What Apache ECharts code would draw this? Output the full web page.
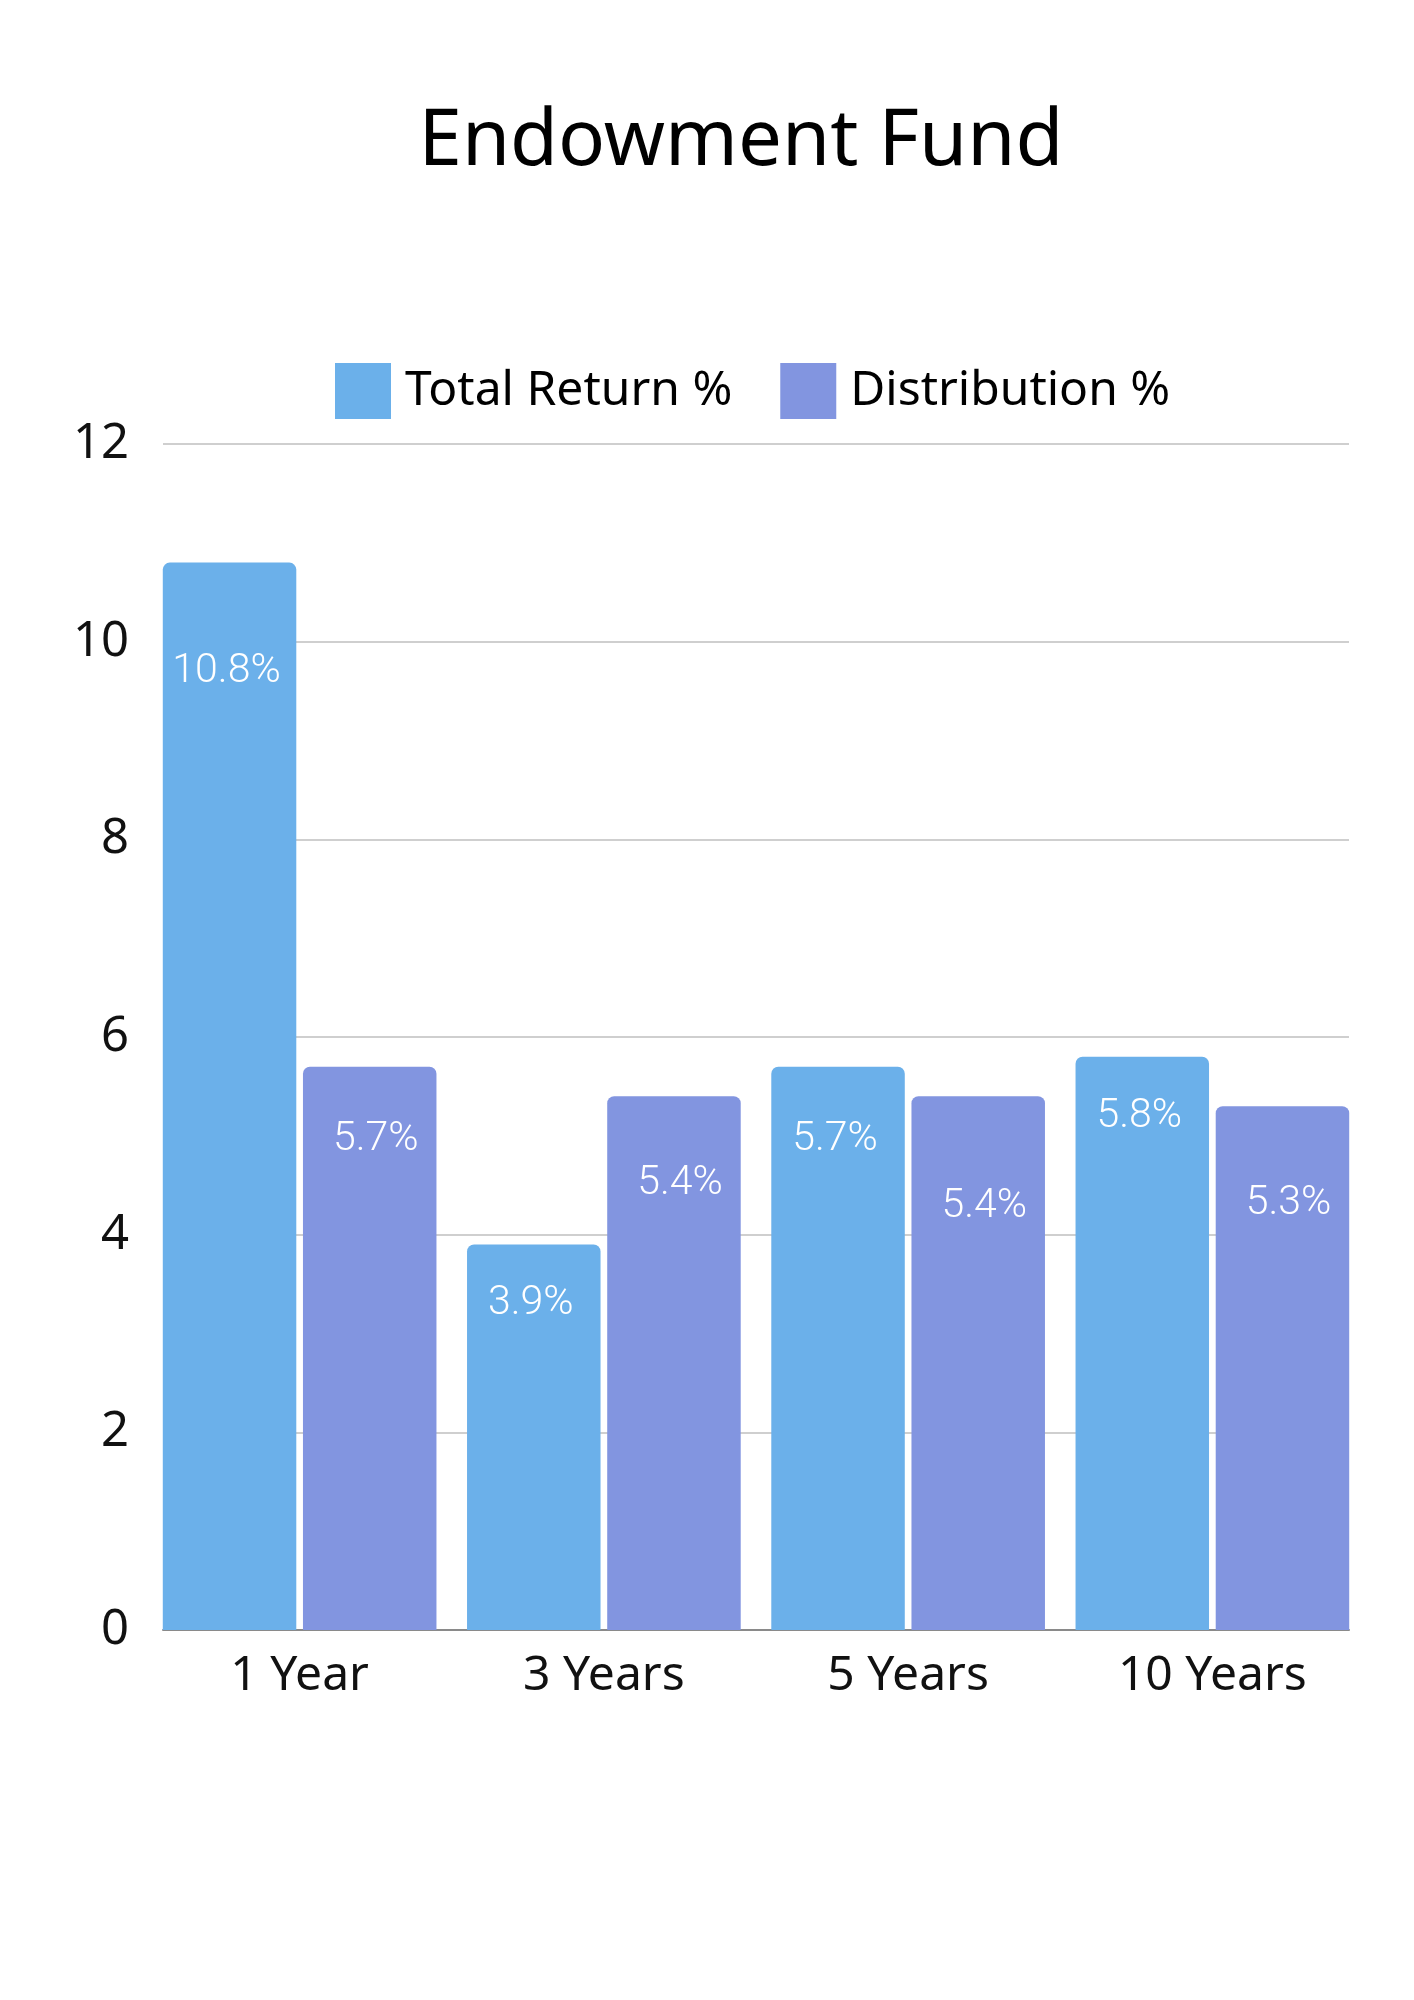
<!DOCTYPE html>
<html>
<head>
<meta charset="utf-8">
<script src="https://cdn.jsdelivr.net/npm/echarts@6/dist/echarts.min.js"></script>
<style>
html,body{margin:0;padding:0;background:#fff;}
#chart{width:1414px;height:2000px;}
</style>
</head>
<body>
<div id="chart"></div>
<script>
const categories = ['1 Year', '3 Years', '5 Years', '10 Years'];
const totalReturn = [10.8, 3.9, 5.7, 5.8];
const distribution = [5.7, 5.4, 5.4, 5.3];
const yTicks = [0, 2, 4, 6, 8, 10, 12];
const seriesNames = ['Total Return %', 'Distribution %'];
// label vertical offsets (px from bar top) as seen in the reference
const labelOffsetTR = [109, 59, 73, 60];
const labelOffsetDist = [73, 87, 110, 98];

const colTR = '#6BB0EA';
const colDist = '#8295E0';
const fontMain = '"Noto Sans", "Open Sans", sans-serif';

function makeData(vals, offs) {
  return vals.map((v, i) => ({
    value: v,
    label: { position: ['50%', offs[i]] }
  }));
}

const chart = echarts.init(document.getElementById('chart'), null, { renderer: 'canvas' });
function labelStyle(dx) {
  return {
    show: true,
    color: '#ffffff',
    fontSize: 41,
    fontFamily: 'Roboto, "Noto Sans", sans-serif',
    fontWeight: 300,
    align: 'center',
    verticalAlign: 'middle',
    offset: [dx, 0],
    formatter: p => p.value + '%'
  };
}
chart.setOption({
  backgroundColor: '#ffffff',
  animation: false,
  title: {
    text: 'Endowment Fund',
    left: 736,
    textAlign: 'center',
    top: 99,
    textStyle: { fontSize: 78, fontWeight: 'normal', color: '#000', fontFamily: fontMain }
  },
  legend: {
    data: seriesNames,
    left: 330,
    top: 358,
    itemWidth: 56,
    itemHeight: 56,
    itemGap: 48,
    icon: 'rect',
    textStyle: { fontSize: 48, color: '#000', fontFamily: fontMain, padding: [0, 0, 0, 9] }
  },
  grid: [
    { left: 163, top: 444, width: 1186, height: 1186 },
    { left: 147.5, top: 444, width: 1217, height: 1186 }
  ],
  xAxis: [
    {
      gridIndex: 0, type: 'category', data: categories,
      axisLine: { show: true, lineStyle: { color: '#8a8a8a', width: 2 } },
      axisTick: { show: false }, axisLabel: { show: false }
    },
    {
      gridIndex: 1, type: 'category', data: categories,
      axisLine: { show: false }, axisTick: { show: false },
      axisLabel: { show: true, fontSize: 48, color: '#111', fontFamily: fontMain, margin: 22 }
    }
  ],
  yAxis: [
    {
      gridIndex: 0, type: 'value', min: yTicks[0], max: yTicks[yTicks.length - 1], interval: 2,
      axisLine: { show: false }, axisTick: { show: false },
      axisLabel: { fontSize: 49, color: '#111', fontFamily: fontMain, margin: 34 },
      splitLine: { show: true, lineStyle: { color: '#cfcfcf', width: 2 } }
    },
    {
      gridIndex: 1, type: 'value', min: yTicks[0], max: yTicks[yTicks.length - 1], interval: 2,
      show: false, splitLine: { show: false }
    }
  ],
  series: [
    {
      name: seriesNames[0], type: 'bar', xAxisIndex: 1, yAxisIndex: 1,
      data: makeData(totalReturn, labelOffsetTR),
      barWidth: 133.5, barGap: '5%',
      itemStyle: { color: colTR, borderRadius: [7, 7, 0, 0] },
      label: labelStyle(-3), z: 3
    },
    {
      name: seriesNames[1], type: 'bar', xAxisIndex: 1, yAxisIndex: 1,
      data: makeData(distribution, labelOffsetDist),
      barWidth: 133.5, barGap: '5%',
      itemStyle: { color: colDist, borderRadius: [7, 7, 0, 0] },
      label: labelStyle(6), z: 3
    }
  ]
});
</script>
</body>
</html>
